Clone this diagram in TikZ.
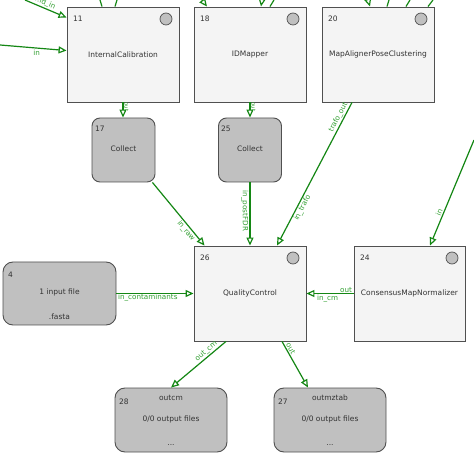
\documentclass[tikz,border=0pt]{standalone}
\usepackage{fontspec}
\setmainfont{DejaVu Sans}
\usetikzlibrary{arrows.meta,calc}
\definecolor{boxfill}{RGB}{244,244,244}
\definecolor{iofill}{RGB}{192,192,192}
\definecolor{bord}{RGB}{80,80,80}
\definecolor{edgegreen}{RGB}{20,135,20}
\definecolor{lblgreen}{RGB}{50,160,50}
\begin{document}
\begin{tikzpicture}[x=1pt,y=-1pt,
 proc/.style={draw=bord, line width=0.9pt, fill=boxfill, minimum width=112pt, minimum height=95pt, inner sep=0pt, font=\fontsize{7.5}{9}\selectfont, text=black!80},
 iobox/.style={draw=bord, line width=0.9pt, fill=iofill, rounded corners=8pt, inner sep=0pt},
 txt/.style={font=\fontsize{7.5}{9}\selectfont, text=black!80, inner sep=0pt},
 num/.style={txt, anchor=west},
 dot/.style={circle, draw=bord, fill=iofill, minimum size=12pt, inner sep=0pt, line width=0.7pt},
 conn/.style={draw=edgegreen, line width=1.2pt, -{Triangle[open,length=8pt,width=7pt]}},
 plainconn/.style={draw=edgegreen, line width=1.2pt},
 lbl/.style={font=\fontsize{7.2}{8}\selectfont, text=lblgreen, inner sep=1pt},
]
\useasboundingbox (0,0) rectangle (474,454);
\fill[white] (0,0) rectangle (474,454);

% process boxes
\node[proc] (n11) at (123,54.5) {InternalCalibration};
\node[proc] (n18) at (250,54.5) {IDMapper};
\node[proc] (n20) at (378,54.5) {MapAlignerPoseClustering};
\node[proc] (n26) at (250,293.5) {QualityControl};
\node[proc, minimum width=111pt] (n24) at (409.5,293.5) {ConsensusMapNormalizer};

\node[num] (t11) at (73,19) {11};
\node[num] (t18) at (200,19) {18};
\node[num] (t20) at (328,19) {20};
\node[num] (t26) at (200,258) {26};
\node[num] (t24) at (360,258) {24};
\node[dot] (d11) at (166,19) {};
\node[dot] (d18) at (293,19) {};
\node[dot] (d20) at (421,19) {};
\node[dot] (d26) at (293,258) {};
\node[dot] (d24) at (452,258) {};

% collect boxes
\node[iobox, minimum width=63pt, minimum height=64pt] (n17) at (123.5,150) {};
\node[iobox, minimum width=63pt, minimum height=64pt] (n25) at (250,150) {};
\node[num] (t17) at (95,129) {17};
\node[num] (t25) at (221,129) {25};
\node[txt] (c17) at (123.5,149) {Collect};
\node[txt] (c25) at (250,149) {Collect};

% input box
\node[iobox, rounded corners=10pt, minimum width=113pt, minimum height=63pt] (n4) at (59.5,293.5) {};
\node[num] (t4) at (8,275) {4};
\node[txt] (a4) at (59.5,292) {1 input file};
\node[txt] (b4) at (59.5,317) {.fasta};

% output boxes
\node[iobox, rounded corners=10pt, minimum width=112pt, minimum height=64pt] (n28) at (171,420) {};
\node[iobox, rounded corners=10pt, minimum width=112pt, minimum height=64pt] (n27) at (330,420) {};
\node[num] (t28) at (119,402) {28};
\node[num] (t27) at (278,402) {27};
\node[txt] (h28) at (171,398) {outcm};
\node[txt] (h27) at (330,398) {outmztab};
\node[txt] (f28) at (171,419) {0/0 output files};
\node[txt] (f27) at (330,419) {0/0 output files};
\node[txt] (e28) at (171,445) {...};
\node[txt] (e27) at (330,445) {...};

% free ends
\coordinate (e11a) at (25,0);
\coordinate (e11b) at (0,45);
\coordinate (e11c) at (100,0);
\coordinate (e11d) at (117,0);
\coordinate (e18a) at (202,0);
\coordinate (e18b) at (262,0);
\coordinate (e18c) at (274,0);
\coordinate (e20a) at (368,0);
\coordinate (e20b) at (389,0);
\coordinate (e20c) at (410,0);
\coordinate (e20d) at (433,0);
\coordinate (e24a) at (474,140);

% connectors
\draw[conn] (e11a) -- node[lbl, sloped, above, pos=0.35] {cal:id\_in} ([yshift=-11pt]n11.north west);
\draw[conn] (e11b) -- node[lbl, below, pos=0.55] {in} ([yshift=-44pt]n11.north west);
\draw[plainconn] (e11c) -- ([xshift=-21pt]n11.north);
\draw[plainconn] (e11d) -- ([xshift=-8pt]n11.north);
\draw[conn] (e18a) -- ([xshift=-43pt]n18.north);
\draw[conn] (e18b) -- ([xshift=11pt]n18.north);
\draw[plainconn] (e18c) -- ([xshift=20pt]n18.north);
\draw[conn] (e20a) -- ([xshift=-8pt]n20.north);
\draw[plainconn] (e20b) -- ([xshift=9pt]n20.north);
\draw[plainconn] (e20c) -- ([xshift=28pt]n20.north);
\draw[plainconn] (e20d) -- ([xshift=50pt]n20.north);

\draw[conn] (n11.south) -- node[lbl, sloped, above, pos=0.3, font=\fontsize{5.5}{6}\selectfont] {out} (n11.south |- n17.north);
\draw[conn] (n18.south) -- node[lbl, sloped, above, pos=0.3, font=\fontsize{5.5}{6}\selectfont] {out} (n25.north);
\draw[conn] ([xshift=-3pt]n17.south east) -- node[lbl, sloped, below, pos=0.72] {in\_raw} ([xshift=11pt]n26.north west);
\draw[conn] (n25.south) -- node[lbl, sloped, below, pos=0.45] {in\_postFDR} (n26.north);
\draw[conn] ([xshift=-26pt]n20.south) -- node[lbl, sloped, above, pos=0.12] {trafo\_out} node[lbl, sloped, below, pos=0.72] {in\_trafo} ([xshift=27pt]n26.north);
\draw[conn] (e24a) -- node[lbl, sloped, above, pos=0.7] {in} ([xshift=20.5pt]n24.north);
\draw[conn] (n4.east) -- node[lbl, anchor=north west, pos=0.0, yshift=1pt] {in\_contaminants} (n26.west);
\draw[conn] (n24.west) -- node[lbl, anchor=south east, pos=0.0, yshift=-0.5pt] {out} node[lbl, anchor=north, pos=0.55, yshift=0.5pt] {in\_cm} (n26.east);
\draw[conn] ([xshift=-24pt]n26.south) -- node[lbl, sloped, above, pos=0.3] {out\_cm} (n28.north);
\draw[conn] ([xshift=32pt]n26.south) -- node[lbl, sloped, above, pos=0.2] {out} ([xshift=-22pt]n27.north);
\end{tikzpicture}
\end{document}
